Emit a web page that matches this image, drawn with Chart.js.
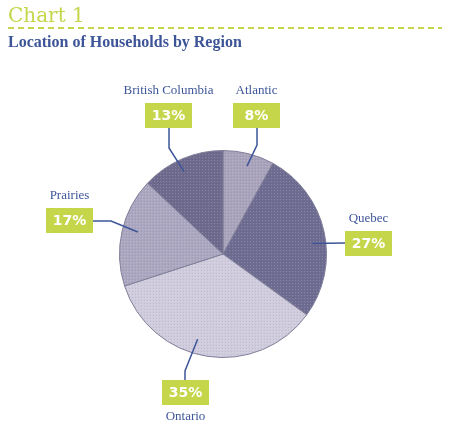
<!DOCTYPE html>
<html>
<head>
<meta charset="utf-8">
<script src="https://cdn.jsdelivr.net/npm/chart.js@4.4.1/dist/chart.umd.min.js"></script>
<style>
  html, body { margin: 0; padding: 0; background: #fff; }
  #wrap { width: 450px; height: 446px; position: relative; }
</style>
</head>
<body>
<div id="wrap"><canvas id="myChart" width="450" height="446"></canvas></div>
<script>
const regions = ['Atlantic', 'Quebec', 'Ontario', 'Prairies', 'British Columbia'];
const shares = [8, 27, 35, 17, 13];
const sliceColors = ['#aaa3bc', '#6f6c92', '#d0ccdd', '#aba7c0', '#6d6a8e'];

// callout layout: box top-left, leader bend points, and where on the slice the leader ends
const callouts = {
    'Atlantic':         { box: [233, 103], label: 'above', path: [[257, 128], [257, 145]], at: 0.53, r: 0.88 },
    'Quebec':           { box: [345, 231], label: 'above', path: [[345, 243]], at: 0.56, r: 0.87 },
    'Ontario':          { box: [162, 380], label: 'below', path: [[185, 380], [185, 371]], at: 0.56, r: 0.86 },
    'Prairies':         { box: [46, 208],  label: 'above', path: [[93, 221], [111, 221]], at: 0.53, r: 0.85 },
    'British Columbia': { box: [145, 103], label: 'above', path: [[169, 128], [169, 148]], at: 0.46, r: 0.88 }
};

const green = '#c5d64a';
const blue = '#3d5598';

// light dotted texture like the printed screen
function texture(color) {
    const t = document.createElement('canvas');
    t.width = 3; t.height = 3;
    const g = t.getContext('2d');
    g.fillStyle = color;
    g.fillRect(0, 0, 3, 3);
    g.fillStyle = 'rgba(255,255,255,0.18)';
    g.fillRect(1, 1, 1, 1);
    g.fillStyle = 'rgba(60,50,90,0.10)';
    g.fillRect(0, 0, 1, 1);
    return g.createPattern(t, 'repeat');
}

const calloutPlugin = {
    id: 'callouts',
    afterDraw(chart) {
        const c = chart.ctx;
        c.save();
        // heading
        c.fillStyle = green;
        c.font = '20px "DejaVu Serif", serif';
        c.textBaseline = 'alphabetic';
        c.fillText('Chart 1', 8, 22);
        c.strokeStyle = green;
        c.lineWidth = 2;
        c.setLineDash([6, 4]);
        c.beginPath();
        c.moveTo(8, 28);
        c.lineTo(442, 28);
        c.stroke();
        c.setLineDash([]);
        c.fillStyle = blue;
        c.font = 'bold 16px "Liberation Serif", serif';
        c.fillText('Location of Households by Region', 8, 47);

        const meta = chart.getDatasetMeta(0);
        meta.data.forEach((arc, i) => {
            const cfg = callouts[regions[i]];
            const p = arc.getProps(['x', 'y', 'startAngle', 'endAngle', 'outerRadius'], true);
            const ang = p.startAngle + (p.endAngle - p.startAngle) * cfg.at;
            const ax = p.x + Math.cos(ang) * p.outerRadius * cfg.r;
            const ay = p.y + Math.sin(ang) * p.outerRadius * cfg.r;

            c.strokeStyle = blue;
            c.lineWidth = 1.5;
            c.beginPath();
            c.moveTo(cfg.path[0][0], cfg.path[0][1]);
            cfg.path.slice(1).forEach(pt => c.lineTo(pt[0], pt[1]));
            c.lineTo(ax, ay);
            c.stroke();

            const bw = 47, bh = 25;
            const [bx, by] = cfg.box;
            c.fillStyle = green;
            c.fillRect(bx, by, bw, bh);
            c.fillStyle = '#fff';
            c.font = 'bold 14px "DejaVu Sans", sans-serif';
            c.textAlign = 'center';
            c.textBaseline = 'middle';
            c.fillText(shares[i] + '%', bx + bw / 2, by + bh / 2 + 1);

            c.fillStyle = blue;
            c.font = '13px "Liberation Serif", serif';
            const ly = cfg.label === 'above' ? by - 12 : by + bh + 12;
            c.fillText(regions[i], bx + bw / 2, ly);
        });
        c.restore();
    }
};

new Chart(document.getElementById('myChart'), {
    type: 'pie',
    data: {
        labels: regions,
        datasets: [{
            data: shares,
            backgroundColor: sliceColors.map(texture),
            borderColor: '#807f99',
            borderWidth: 1
        }]
    },
    options: {
        responsive: false,
        animation: false,
        layout: { padding: { left: 119, right: 123, top: 150, bottom: 88 } },
        plugins: {
            legend: { display: false },
            tooltip: { enabled: false }
        }
    },
    plugins: [calloutPlugin]
});
</script>
</body>
</html>
